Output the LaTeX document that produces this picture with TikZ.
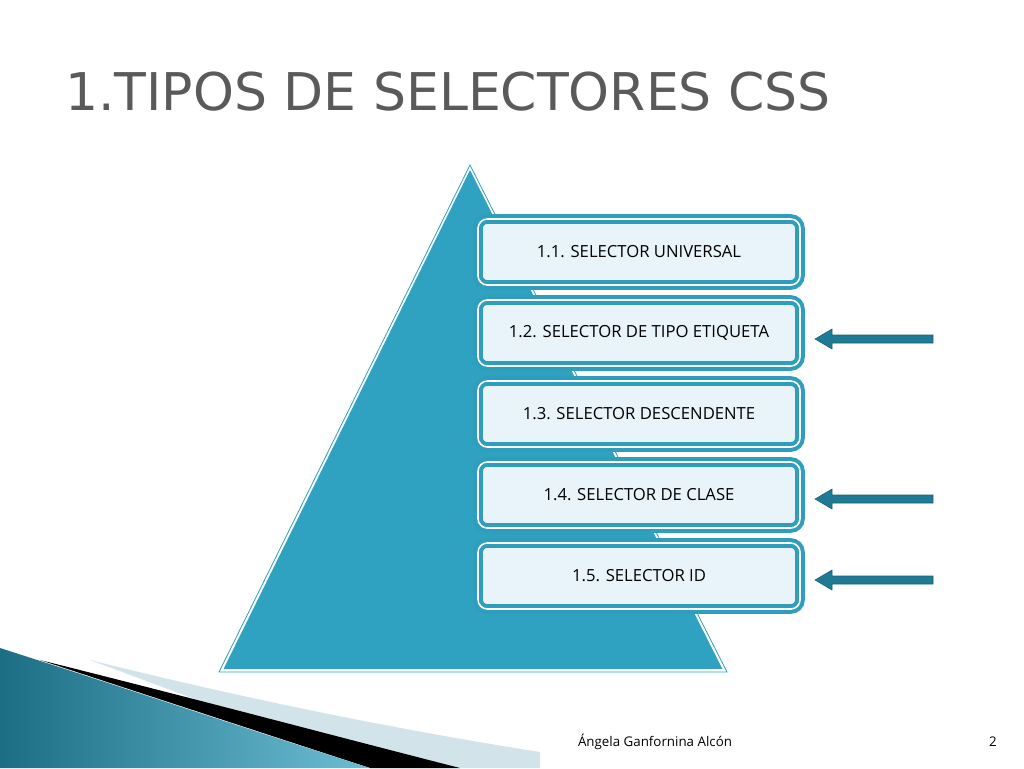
\documentclass[tikz,border=0pt]{standalone}
\usepackage{fontspec}
\setmainfont{Open Sans}
\newfontfamily\titlefont{DejaVu Sans}
\usetikzlibrary{arrows.meta}
\definecolor{tri}{HTML}{2EA2C0}
\definecolor{boxfill}{HTML}{E8F4F9}
\definecolor{boxline}{HTML}{2E9EBC}
\definecolor{arr}{HTML}{1F7A94}
\definecolor{ttl}{HTML}{5A5A5A}
\newlength\pxu \setlength\pxu{0.75pt}
\tikzset{
 lvl/.style={draw=boxline,line width=3pt,double=white,double distance=1.2pt,fill=boxfill,rounded corners=7pt,minimum width=322\pxu,minimum height=66\pxu,font=\fontsize{12.5}{14}\selectfont,text=black},
 bigarrow/.style={draw=arr!80!black,fill=arr,line width=0.4pt}
}
\begin{document}
\begin{tikzpicture}[x=0.75pt,y=-0.75pt]
\useasboundingbox (0,0) rectangle (1024,768);
\fill[white] (0,0) rectangle (1024,768);
% bottom decoration
\fill[arr!20!white] (90,660) .. controls (250,700) and (400,730) .. (540,752) -- (540,768) -- (380,768) -- cycle;
\fill[black] (40,660) .. controls (200,700) and (350,740) .. (460,768) -- (370,768) -- cycle;
\shade[left color=arr!90!black,right color=tri!70!white] (0,648) .. controls (100,680) and (250,730) .. (370,768) -- (0,768) -- cycle;
% title
\node[anchor=west,text=ttl,inner sep=0pt] (title) at (65,92) {\titlefont\fontsize{39}{44}\selectfont 1.TIPOS DE SELECTORES CSS};
% pyramid
\filldraw[fill=tri,draw=white,line width=1.2pt] (470,168) -- (724,670) -- (222,670) -- cycle;
\draw[tri,line width=0.6pt] (470,165) -- (727,672) -- (219,672) -- cycle;
% levels
\node[lvl] (l1) at (639,252) {1.1. SELECTOR UNIVERSAL};
\node[lvl] (l2) at (639,333) {1.2. SELECTOR DE TIPO ETIQUETA};
\node[lvl] (l3) at (639,414) {1.3. SELECTOR DESCENDENTE};
\node[lvl] (l4) at (639,495) {1.4. SELECTOR DE CLASE};
\node[lvl] (l5) at (639,576) {1.5. SELECTOR ID};
% arrows
\foreach \y/\n in {339/a2,499/a4,580/a5}{
 \coordinate (\n s) at (933,\y);
 \filldraw[bigarrow] (933,\y-4) -- (832,\y-4) -- (832,\y-10) -- (815,\y) -- (832,\y+10) -- (832,\y+4) -- (933,\y+4) -- cycle;
}
% footer
\node[font=\fontsize{10}{12}\selectfont] (author) at (655,742) {Ángela Ganfornina Alcón};
\node[font=\fontsize{10}{12}\selectfont] (page) at (993,742) {2};
\end{tikzpicture}
\end{document}
